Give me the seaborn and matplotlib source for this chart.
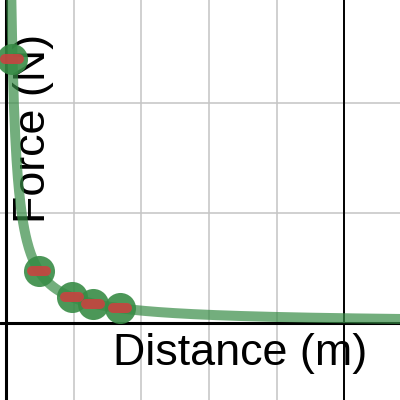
import numpy as np
import pandas as pd
import matplotlib
matplotlib.use("Agg")
import matplotlib.pyplot as plt
from matplotlib.markers import MarkerStyle
import seaborn as sns

# measured points (grid units)
distance = [0.095, 0.49, 0.98, 1.29, 1.69]
force = [2.40, 0.48, 0.236, 0.18, 0.136]

# view window
x_min, x_max = -0.089, 5.82
y_min, y_max = -0.697, 2.94
x_grid = [1, 2, 3, 4, 5]
y_grid = [1, 2]

sns.set_style("white")
plt.rcParams["font.family"] = ["Liberation Sans", "DejaVu Sans"]

df = pd.DataFrame({"distance": distance, "force": force})

# inverse fit F = k / d from the points
k = np.mean(df["distance"] * df["force"])
d_fit = np.linspace(k / y_max, x_max, 600)
fit = pd.DataFrame({"distance": d_fit, "force": k / d_fit})

fig = plt.figure(figsize=(4, 4), dpi=100)
ax = fig.add_axes([0, 0, 1, 1])
ax.set_xlim(x_min, x_max)
ax.set_ylim(y_min, y_max)

# grid
for gx in x_grid:
    ax.axvline(gx, color="#c4c4c4", lw=1.1, zorder=0)
for gy in y_grid:
    ax.axhline(gy, color="#c4c4c4", lw=1.1, zorder=0)

# labels
ax.text(1.58, -0.379, "Distance (m)", fontsize=32.3, color="black",
        ha="left", va="baseline", zorder=1)
ax.text(0.576, 0.912, "Force (N)", fontsize=32.3, color="black", rotation=90,
        rotation_mode="anchor", ha="left", va="baseline", zorder=1)

# axes
ax.axhline(0, color="black", lw=2.2, zorder=2)
ax.axvline(0, color="black", lw=2.2, zorder=2)
ax.axvline(5, color="black", lw=1.4, zorder=2)

# fitted curve
sns.lineplot(data=fit, x="distance", y="force", color="#388c46", alpha=0.7,
             lw=7.2, solid_capstyle="butt", ax=ax, zorder=3)

# points
sns.scatterplot(data=df, x="distance", y="force", color="#388c46", alpha=0.9,
                s=500, linewidth=0, ax=ax, zorder=4)
dash = MarkerStyle("_", capstyle="round")
ax.plot(df["distance"], df["force"], ls="none", marker=dash, ms=9.6, mew=7.2,
        color="#c74440", alpha=0.9, zorder=5)

ax.set_xlabel("")
ax.set_ylabel("")
ax.set_xticks([])
ax.set_yticks([])
for s in ax.spines.values():
    s.set_visible(False)

fig.savefig("out.png", dpi=100)
